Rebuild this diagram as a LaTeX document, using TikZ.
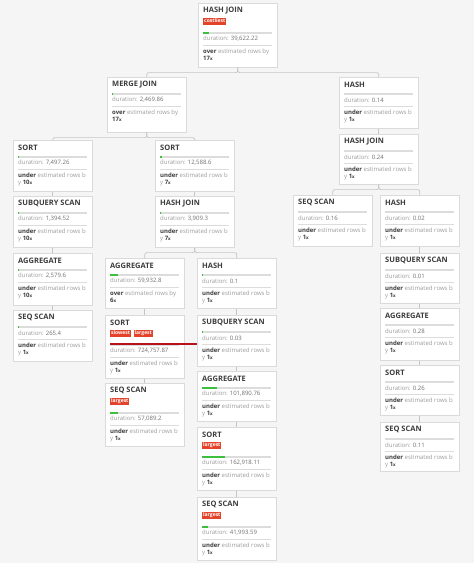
\documentclass[tikz,border=0pt]{standalone}
\usepackage{fontspec}
\setmainfont{Open Sans}
\usetikzlibrary{positioning}
\definecolor{pagebg}{HTML}{F5F5F5}
\definecolor{boxline}{HTML}{DADADA}
\definecolor{linkgray}{HTML}{C4C4C4}
\definecolor{titlegray}{HTML}{3C3C3C}
\definecolor{textgray}{HTML}{9C9C9C}
\definecolor{valgray}{HTML}{707070}
\definecolor{bargray}{HTML}{DCDCDC}
\definecolor{bargreen}{HTML}{3CBF3C}
\definecolor{barred}{HTML}{B5121B}
\definecolor{badgered}{HTML}{E4432B}
\tikzstyle{opnode} = [draw=boxline, fill=white, line width=.6pt,
    minimum width=79, anchor=north west, inner sep=0]
\tikzstyle{optitle} = [inner sep=0, text=titlegray,
    font=\fontsize{7.5}{8}\selectfont\bfseries]
\tikzstyle{optext} = [inner sep=0, text=textgray,
    font=\fontsize{6}{7}\selectfont]
\tikzstyle{barbase} = [draw=bargray, line width=1.4pt]
\tikzstyle{barfill} = [draw=bargreen, line width=1.4pt]
\tikzstyle{barslow} = [draw=barred, line width=2pt]
\tikzstyle{sepline} = [draw=bargray, line width=.5pt]
\tikzstyle{link} = [draw=linkgray, line width=.7pt, rounded corners=2pt]
\newcommand{\badge}[1]{{\setlength{\fboxsep}{1pt}%
    \colorbox{badgered}{\textcolor{white}{\fontsize{5}{5}\selectfont\bfseries\vphantom{lg}#1}}}}
\newcommand{\mult}[1]{\textcolor{titlegray}{\textbf{#1}{\fontsize{4.4}{5}\selectfont\bfseries x}}}
\newcommand{\estunder}[1]{\textcolor{titlegray}{\textbf{under}} estimated rows b\\y \mult{#1}}
\newcommand{\estover}[1]{\textcolor{titlegray}{\textbf{over}} estimated rows by\\\mult{#1}}
% name, x, y, height, title, badges, green bar, duration, estimate
\newcommand{\opbox}[9]{%
  \node[opnode, minimum height=#4] (#1) at (#2,#3) {};
  \node[optitle, anchor=west] (#1-title) at ([shift={(5,7.5)}]#1.north west) {#5};
  \def\badgetext{#6}%
  \ifx\badgetext\empty\def\dy{0}\else\def\dy{13}%
    \node[anchor=west, inner sep=0] (#1-badge) at ([shift={(5,18)}]#1.north west) {#6};%
  \fi
  \draw[barbase] ([shift={(5,17+\dy)}]#1.north west) -- ++(69,0);
  \ifdim#7pt>0pt \draw[barfill] ([shift={(5,17+\dy)}]#1.north west) -- ++(#7,0);\fi
  \node[optext, anchor=west] (#1-dur) at ([shift={(5,23+\dy)}]#1.north west)
    {duration: \textcolor{valgray}{#8}};
  \draw[sepline] ([shift={(5,29+\dy)}]#1.north west) -- ++(69,0);
  \node[optext, anchor=north west, align=left] (#1-est) at ([shift={(5,32.5+\dy)}]#1.north west) {#9};
}

\begin{document}
\begin{tikzpicture}[x=1pt, y=-1pt]
	\path[use as bounding box, fill=pagebg] (0,0) rectangle (474,563);

	% top of the plan
	\opbox{hjroot}{198}{3}{64}{HASH JOIN}{\badge{costliest}}{6}{39,622.22}{\estover{17}}
	\opbox{mjoin}{107}{77}{55}{MERGE JOIN}{}{1}{2,469.86}{\estover{17}}
	\opbox{hash1}{339}{77}{51}{HASH}{}{0}{0.14}{\estunder{1}}
	\opbox{hjoin2}{339}{134}{50}{HASH JOIN}{}{0}{0.24}{\estunder{1}}

	% left branch
	\opbox{sortl}{13}{140}{51}{SORT}{}{1}{7,497.26}{\estunder{10}}
	\opbox{subql}{13}{196}{51}{SUBQUERY SCAN}{}{1}{1,394.52}{\estunder{10}}
	\opbox{aggl}{13}{253}{52}{AGGREGATE}{}{1}{2,579.6}{\estunder{10}}
	\opbox{seql}{13}{310}{51}{SEQ SCAN}{}{1}{265.4}{\estunder{1}}

	% middle branch
	\opbox{sortm}{155}{140}{51}{SORT}{}{1.5}{12,588.6}{\estunder{7}}
	\opbox{hjoinm}{155}{196}{51}{HASH JOIN}{}{1}{3,909.3}{\estunder{7}}
	\opbox{aggm}{105}{258}{50}{AGGREGATE}{}{8}{59,932.8}{\estover{6}}
	\opbox{sortslow}{105}{315}{63}{SORT}{\badge{slowest} \badge{largest}}{0}{724,757.87}{\estunder{1}}
	\opbox{seqm}{105}{383}{63}{SEQ SCAN}{\badge{largest}}{8}{57,089.2}{\estunder{1}}
	\opbox{hashm}{197}{258}{50}{HASH}{}{1}{0.1}{\estunder{1}}
	\opbox{subqm}{197}{315}{51}{SUBQUERY SCAN}{}{1}{0.03}{\estunder{1}}
	\opbox{aggmr}{197}{371}{50}{AGGREGATE}{}{15}{101,890.76}{\estunder{1}}
	\opbox{sortmr}{197}{427}{63}{SORT}{\badge{largest}}{23}{162,918.11}{\estunder{1}}
	\opbox{seqbot}{197}{497}{63}{SEQ SCAN}{\badge{largest}}{6}{41,993.59}{\estunder{1}}

	% right branch
	\opbox{seqr}{293}{195}{51}{SEQ SCAN}{}{0}{0.16}{\estunder{1}}
	\opbox{hashr}{380}{195}{51}{HASH}{}{0}{0.02}{\estunder{1}}
	\opbox{subqr}{380}{253}{50}{SUBQUERY SCAN}{}{0}{0.01}{\estunder{1}}
	\opbox{aggr}{380}{308}{52}{AGGREGATE}{}{0}{0.28}{\estunder{1}}
	\opbox{sortr}{380}{365}{50}{SORT}{}{0}{0.26}{\estunder{1}}
	\opbox{seqr2}{380}{422}{49}{SEQ SCAN}{}{0}{0.11}{\estunder{1}}

	% slowest bar runs past its box
	\draw[barslow] ([shift={(5,29)}]sortslow.north west) -- ++(87,0);

	% links
	\draw[link] (hjroot.south) -- ++(0,5) -| (mjoin.north);
	\draw[link] (hjroot.south) -- ++(0,5) -| (hash1.north);
	\draw[link] (mjoin.south) -- ++(0,5) -| (sortl.north);
	\draw[link] (mjoin.south) -- ++(0,5) -| (sortm.north);
	\draw[link] (hash1.south) -- (hjoin2.north);
	\draw[link] (hjoin2.south) -- ++(0,5) -| (seqr.north);
	\draw[link] (hjoin2.south) -- ++(0,5) -| (hashr.north);
	\draw[link] (sortl.south) -- (subql.north);
	\draw[link] (subql.south) -- (aggl.north);
	\draw[link] (aggl.south) -- (seql.north);
	\draw[link] (sortm.south) -- (hjoinm.north);
	\draw[link] (hjoinm.south) -- ++(0,5) -| (aggm.north);
	\draw[link] (hjoinm.south) -- ++(0,5) -| (hashm.north);
	\draw[link] (aggm.south) -- (sortslow.north);
	\draw[link] (sortslow.south) -- (seqm.north);
	\draw[link] (hashm.south) -- (subqm.north);
	\draw[link] (subqm.south) -- (aggmr.north);
	\draw[link] (aggmr.south) -- (sortmr.north);
	\draw[link] (sortmr.south) -- (seqbot.north);
	\draw[link] (hashr.south) -- (subqr.north);
	\draw[link] (subqr.south) -- (aggr.north);
	\draw[link] (aggr.south) -- (sortr.north);
	\draw[link] (sortr.south) -- (seqr2.north);
\end{tikzpicture}
\end{document}
